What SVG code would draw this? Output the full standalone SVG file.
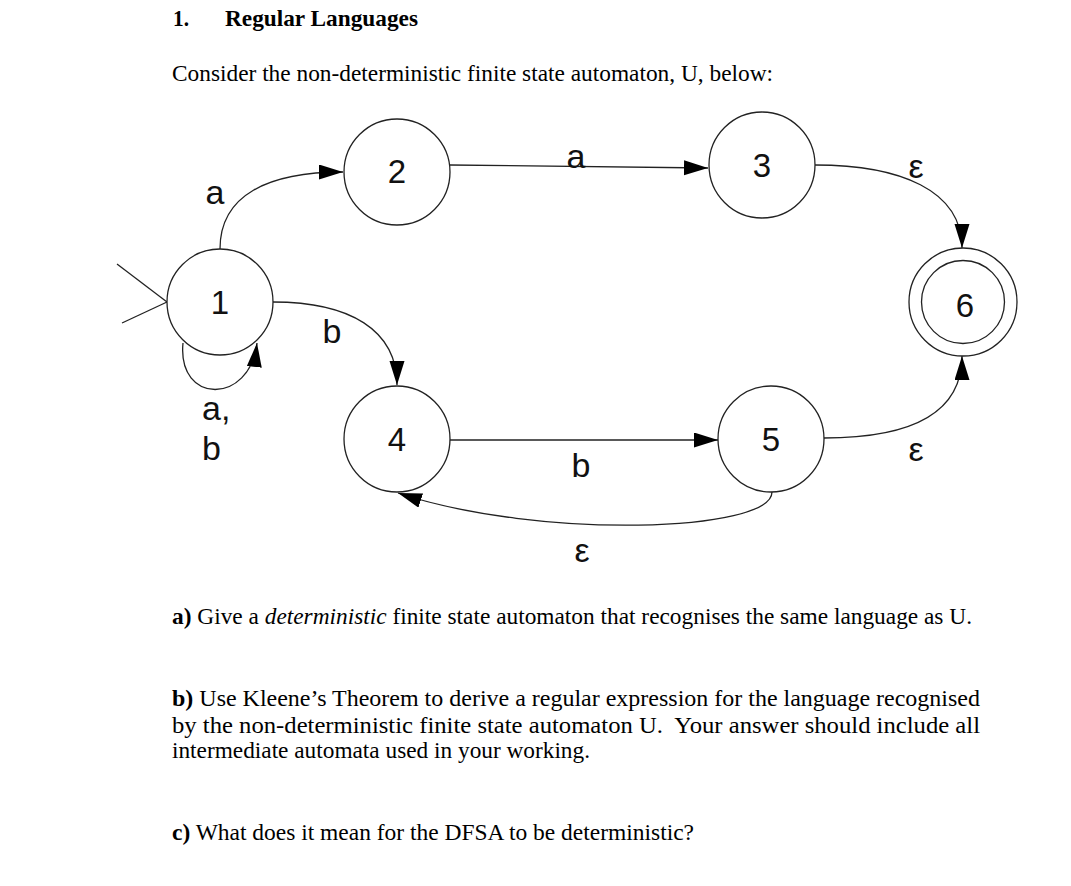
<svg xmlns="http://www.w3.org/2000/svg" width="1071" height="886" viewBox="0 0 1071 886">
<style>
.body{font-family:"Liberation Serif","Times New Roman",serif;font-size:24px;fill:#000}
.b{font-weight:bold}
.i{font-style:italic}
.node{fill:#fff;stroke:#222;stroke-width:1.3}
.nl{font-family:"Liberation Sans",Arial,sans-serif;font-size:33px;fill:#111;text-anchor:middle}
.el{font-family:"Liberation Sans",Arial,sans-serif;font-size:34px;fill:#111;text-anchor:middle}
.edge{fill:none;stroke:#222;stroke-width:1.3}
</style>
<defs>
<marker id="arr" markerUnits="userSpaceOnUse" markerWidth="24" markerHeight="16" refX="24" refY="7.5" orient="auto">
<path d="M0,0 L24,7.5 L0,15 z" fill="#000"/>
</marker>
</defs>
<rect width="1071" height="886" fill="#fff"/>

<g id="heading">
<text class="body b" x="173" y="26" textLength="16" lengthAdjust="spacingAndGlyphs">1.</text>
<text class="body b" x="225" y="26" textLength="193" lengthAdjust="spacingAndGlyphs">Regular Languages</text>
<text class="body" x="172" y="81" textLength="601" lengthAdjust="spacingAndGlyphs">Consider the non-deterministic finite state automaton, U, below:</text>
</g>

<g id="connectors">
<line class="edge" x1="117" y1="264" x2="167" y2="302"/>
<line class="edge" x1="122" y1="323" x2="167" y2="302"/>
<path class="edge" d="M220,249 C220,195 268,172 343,172" marker-end="url(#arr)"/>
<path class="edge" d="M450,165 L708,168" marker-end="url(#arr)"/>
<path class="edge" d="M815,165 C900,165 962,190 962,248" marker-end="url(#arr)"/>
<path class="edge" d="M273,302 C350,302 397,330 397,385" marker-end="url(#arr)"/>
<path class="edge" d="M183,343 C177,405 250,405 257,343" marker-end="url(#arr)"/>
<path class="edge" d="M450,440 L718,440" marker-end="url(#arr)"/>
<path class="edge" d="M824,438 C900,438 962,420 962,356" marker-end="url(#arr)"/>
<path class="edge" d="M772,492 C772,532 540,540 398,493" marker-end="url(#arr)"/>
<text class="el" x="215" y="204">a</text>
<text class="el" x="576" y="168">a</text>
<text class="el" x="916" y="178">ε</text>
<text class="el" x="332" y="343">b</text>
<text class="el" x="202" y="420" style="text-anchor:start">a,</text>
<text class="el" x="202" y="460" style="text-anchor:start">b</text>
<text class="el" x="581" y="477">b</text>
<text class="el" x="916" y="461">ε</text>
<text class="el" x="582" y="562">ε</text>
</g>

<g id="node1"><circle class="node" cx="220" cy="302" r="53"/><text class="nl" x="220" y="314">1</text></g>
<g id="node2"><circle class="node" cx="397" cy="172" r="53"/><text class="nl" x="397" y="183">2</text></g>
<g id="node3"><circle class="node" cx="762" cy="165" r="53"/><text class="nl" x="762" y="177">3</text></g>
<g id="node4"><circle class="node" cx="397" cy="439" r="53"/><text class="nl" x="397" y="451">4</text></g>
<g id="node5"><circle class="node" cx="771" cy="439" r="53"/><text class="nl" x="771" y="451">5</text></g>
<g id="node6"><circle class="node" cx="963" cy="302" r="54"/><circle class="node" cx="963" cy="302" r="41.5"/><text class="nl" x="965" y="317">6</text></g>

<g id="questions">
<text class="body" x="172" y="624" textLength="800" lengthAdjust="spacingAndGlyphs"><tspan class="b">a)</tspan> Give a <tspan class="i">deterministic</tspan> finite state automaton that recognises the same language as U.</text>
<text class="body" x="172" y="706" textLength="808" lengthAdjust="spacingAndGlyphs"><tspan class="b">b)</tspan> Use Kleene’s Theorem to derive a regular expression for the language recognised</text>
<text class="body" x="172" y="733" textLength="808" lengthAdjust="spacingAndGlyphs" style="white-space:pre">by the non-deterministic finite state automaton U.  Your answer should include all</text>
<text class="body" x="172" y="758" textLength="418" lengthAdjust="spacingAndGlyphs">intermediate automata used in your working.</text>
<text class="body" x="172" y="840" textLength="522" lengthAdjust="spacingAndGlyphs"><tspan class="b">c)</tspan> What does it mean for the DFSA to be deterministic?</text>
</g>
</svg>
